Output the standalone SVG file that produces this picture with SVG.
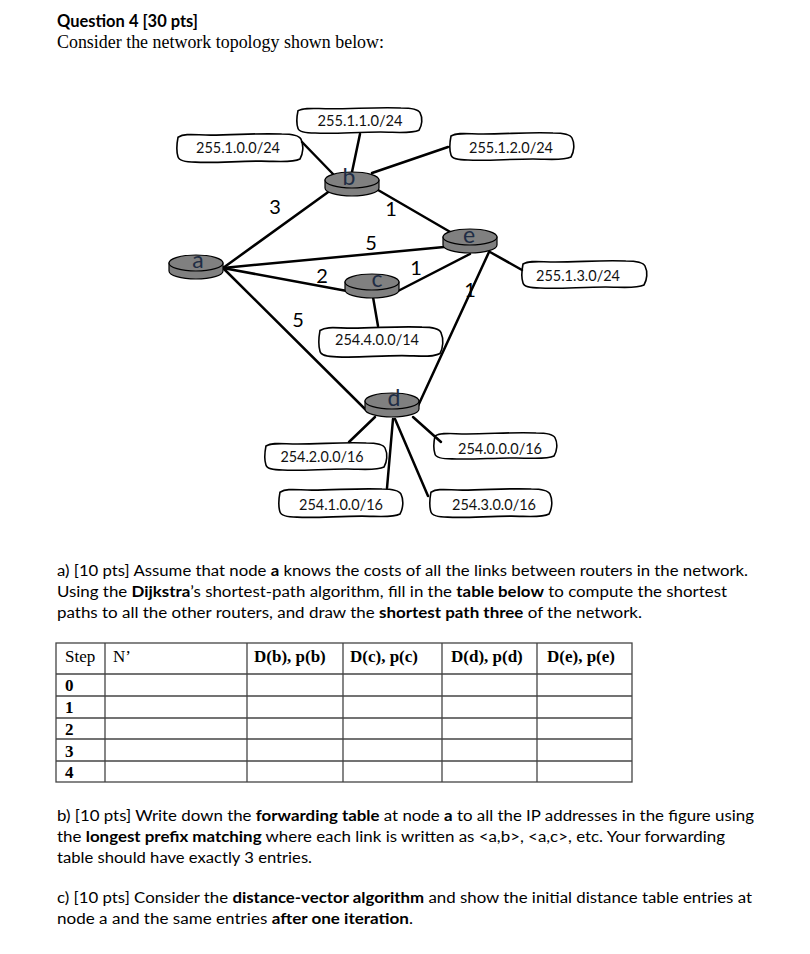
<svg xmlns="http://www.w3.org/2000/svg" xmlns:xlink="http://www.w3.org/1999/xlink" width="810" height="954" viewBox="0 0 810 954">
<style>
  .cyl { fill: #808080; stroke: #000; stroke-width: 1.2; }
  .nlab { font-family: Lato, "Open Sans", sans-serif; font-size: 23px; fill: #1f2d45; text-anchor: middle; }
  .edge { stroke: #000; stroke-width: 2.5; fill: none; stroke-linecap: round; }
  .w { font-family: Lato, "Open Sans", sans-serif; font-size: 20px; fill: #000; text-anchor: middle; }
  .cloud { fill: #fff; stroke: #000; stroke-width: 1.6; }
  .ip { font-family: Lato, "Open Sans", sans-serif; font-size: 15px; fill: #111; text-anchor: middle; }
  .body { font-family: Lato, "Open Sans", sans-serif; font-size: 15.5px; fill: #000; }
  .b { font-weight: bold; }
  .serif { font-family: "Liberation Serif", "Times New Roman", serif; fill: #000; }
  .tl { stroke: #444; stroke-width: 1.3; fill: none; }
  .th { font-family: "Liberation Serif", "Times New Roman", serif; font-size: 17px; fill: #000; }
</style>
<defs>
  <path id="cloudShape" d="M3,4 C10,0 20,2 35,2 C60,2 80,0 105,1 C115,1 122,2 124,6 C127,12 126,20 123,25 C115,29 100,27 85,27 C60,27 40,29 20,28 C10,28 4,27 3,23 C1,17 2,9 3,4 Z"/>
</defs>
<rect width="810" height="954" fill="#fff"/>

<!-- Header -->
<text x="57" y="27" font-family="Lato, 'Open Sans', sans-serif" font-size="16.5" font-weight="bold" textLength="141" lengthAdjust="spacingAndGlyphs">Question 4 [30 pts]</text>
<text class="serif" x="57" y="48" font-size="18" textLength="327" lengthAdjust="spacingAndGlyphs">Consider the network topology shown below:</text>

<!-- Subnet labels -->
<g id="labels">
  <g id="lbl-255-1-1"><use xlink:href="#cloudShape" class="cloud" transform="translate(295,107) scale(1.008,0.93)"/><text class="ip" x="360" y="126" textLength="85" lengthAdjust="spacingAndGlyphs">255.1.1.0/24</text></g>
  <g id="lbl-255-1-0"><use xlink:href="#cloudShape" class="cloud" transform="translate(175,133) scale(1.016,1.04)"/><text class="ip" x="238" y="153" textLength="84" lengthAdjust="spacingAndGlyphs">255.1.0.0/24</text></g>
  <g id="lbl-255-1-2"><use xlink:href="#cloudShape" class="cloud" transform="translate(448,132) scale(1.0,1.0)"/><text class="ip" x="511" y="153" textLength="84" lengthAdjust="spacingAndGlyphs">255.1.2.0/24</text></g>
  <g id="lbl-255-1-3"><use xlink:href="#cloudShape" class="cloud" transform="translate(520,260) scale(1.008,1.0)"/><text class="ip" x="578" y="281" textLength="84" lengthAdjust="spacingAndGlyphs">255.1.3.0/24</text></g>
  <g id="lbl-254-4"><use xlink:href="#cloudShape" class="cloud" transform="translate(317,326) scale(1.0,1.1)"/><text class="ip" x="377" y="345" textLength="84" lengthAdjust="spacingAndGlyphs">254.4.0.0/14</text></g>
  <g id="lbl-254-2"><use xlink:href="#cloudShape" class="cloud" transform="translate(263,442) scale(0.984,1.0)"/><text class="ip" x="322" y="462" textLength="83" lengthAdjust="spacingAndGlyphs">254.2.0.0/16</text></g>
  <g id="lbl-254-0"><use xlink:href="#cloudShape" class="cloud" transform="translate(432,432) scale(0.992,0.96)"/><text class="ip" x="500" y="454" textLength="84" lengthAdjust="spacingAndGlyphs">254.0.0.0/16</text></g>
  <g id="lbl-254-1"><use xlink:href="#cloudShape" class="cloud" transform="translate(277,488) scale(1.0,1.04)"/><text class="ip" x="341" y="510" textLength="84" lengthAdjust="spacingAndGlyphs">254.1.0.0/16</text></g>
  <g id="lbl-254-3"><use xlink:href="#cloudShape" class="cloud" transform="translate(428,488) scale(0.984,1.04)"/><text class="ip" x="494" y="510" textLength="84" lengthAdjust="spacingAndGlyphs">254.3.0.0/16</text></g>
</g>

<!-- Connectors -->
<g id="connectors">
  <line class="edge" x1="223" y1="268" x2="331" y2="190"/>
  <line class="edge" x1="223" y1="268" x2="444" y2="247"/>
  <line class="edge" x1="223" y1="268" x2="347" y2="291"/>
  <line class="edge" x1="223" y1="268" x2="368" y2="412"/>
  <line class="edge" x1="378" y1="190" x2="452" y2="233"/>
  <line class="edge" x1="398" y1="291" x2="470" y2="254"/>
  <line class="edge" x1="489" y1="252" x2="418" y2="406"/>
  <line class="edge" x1="302" y1="142" x2="333" y2="174"/>
  <line class="edge" x1="360" y1="134" x2="352" y2="172"/>
  <line class="edge" x1="372" y1="173" x2="448" y2="147"/>
  <line class="edge" x1="490" y1="252" x2="522" y2="270"/>
  <line class="edge" x1="373" y1="297" x2="378" y2="326"/>
  <line class="edge" x1="375" y1="417" x2="349" y2="442"/>
  <line class="edge" x1="393" y1="419" x2="387" y2="488"/>
  <line class="edge" x1="395" y1="419" x2="428" y2="496"/>
  <line class="edge" x1="413" y1="417" x2="441" y2="442"/>
  <text class="w" x="275" y="214">3</text>
  <text class="w" x="391" y="216">1</text>
  <text class="w" x="371" y="250">5</text>
  <text class="w" x="322" y="283">2</text>
  <text class="w" x="416" y="275">1</text>
  <text class="w" x="298" y="327">5</text>
  <text class="w" x="470" y="297">1</text>
</g>

<!-- Router nodes -->
<g id="node-a"><path class="cyl" d="M169,263 L169,271 A27,8 0 0 0 223,271 L223,263 Z"/><ellipse class="cyl" cx="196" cy="263" rx="27" ry="8"/><text class="nlab" x="198" y="268">a</text></g>
<g id="node-b"><path class="cyl" d="M325,180 L325,188 A27,8 0 0 0 379,188 L379,180 Z"/><ellipse class="cyl" cx="352" cy="180" rx="27" ry="8"/><text class="nlab" x="349" y="185">b</text></g>
<g id="node-c"><path class="cyl" d="M345,282 L345,290 A27,8 0 0 0 399,290 L399,282 Z"/><ellipse class="cyl" cx="372" cy="282" rx="27" ry="8"/><text class="nlab" x="377" y="287">c</text></g>
<g id="node-d"><path class="cyl" d="M365,401 L365,409 A27,8 0 0 0 419,409 L419,401 Z"/><ellipse class="cyl" cx="392" cy="401" rx="27" ry="8"/><text class="nlab" x="394" y="406">d</text></g>
<g id="node-e"><path class="cyl" d="M443,237 L443,245 A27,8 0 0 0 497,245 L497,237 Z"/><ellipse class="cyl" cx="470" cy="237" rx="27" ry="8"/><text class="nlab" x="469" y="243">e</text></g>

<!-- Part a text -->
<text class="body" x="57" y="576" textLength="691" lengthAdjust="spacingAndGlyphs">a) [10 pts] Assume that node <tspan class="b">a</tspan> knows the costs of all the links between routers in the network.</text>
<text class="body" x="57" y="597" textLength="670" lengthAdjust="spacingAndGlyphs">Using the <tspan class="b">Dijkstra</tspan>’s shortest-path algorithm, fill in the <tspan class="b">table below</tspan> to compute the shortest</text>
<text class="body" x="57" y="618" textLength="585" lengthAdjust="spacingAndGlyphs">paths to all the other routers, and draw the <tspan class="b">shortest path three</tspan> of the network.</text>

<!-- Table -->
<g id="table">
  <rect class="tl" x="56" y="643" width="576" height="139"/>
  <line class="tl" x1="105" y1="643" x2="105" y2="782"/>
  <line class="tl" x1="247" y1="643" x2="247" y2="782"/>
  <line class="tl" x1="343" y1="643" x2="343" y2="782"/>
  <line class="tl" x1="442" y1="643" x2="442" y2="782"/>
  <line class="tl" x1="537" y1="643" x2="537" y2="782"/>
  <line class="tl" x1="56" y1="674" x2="632" y2="674"/>
  <line class="tl" x1="56" y1="696" x2="632" y2="696"/>
  <line class="tl" x1="56" y1="718" x2="632" y2="718"/>
  <line class="tl" x1="56" y1="739" x2="632" y2="739"/>
  <line class="tl" x1="56" y1="761" x2="632" y2="761"/>
  <text class="th" x="65" y="662">Step</text>
  <text class="th" x="113" y="662">N’</text>
  <text class="th b" x="254" y="662">D(b), p(b)</text>
  <text class="th b" x="350" y="662">D(c), p(c)</text>
  <text class="th b" x="451" y="662">D(d), p(d)</text>
  <text class="th b" x="547" y="662">D(e), p(e)</text>
  <text class="th b" x="65" y="691">0</text>
  <text class="th b" x="65" y="713">1</text>
  <text class="th b" x="65" y="735">2</text>
  <text class="th b" x="65" y="757">3</text>
  <text class="th b" x="65" y="778">4</text>
</g>

<!-- Part b and c text -->
<text class="body" x="57" y="821" textLength="697" lengthAdjust="spacingAndGlyphs">b) [10 pts] Write down the <tspan class="b">forwarding table</tspan> at node <tspan class="b">a</tspan> to all the IP addresses in the figure using</text>
<text class="body" x="57" y="842" textLength="668" lengthAdjust="spacingAndGlyphs">the <tspan class="b">longest prefix matching</tspan> where each link is written as &lt;a,b&gt;, &lt;a,c&gt;, etc. Your forwarding</text>
<text class="body" x="57" y="863" textLength="255" lengthAdjust="spacingAndGlyphs">table should have exactly 3 entries.</text>
<text class="body" x="57" y="903" textLength="695" lengthAdjust="spacingAndGlyphs">c) [10 pts] Consider the <tspan class="b">distance-vector algorithm</tspan> and show the initial distance table entries at</text>
<text class="body" x="57" y="924" textLength="356" lengthAdjust="spacingAndGlyphs">node a and the same entries <tspan class="b">after one iteration</tspan>.</text>
</svg>
